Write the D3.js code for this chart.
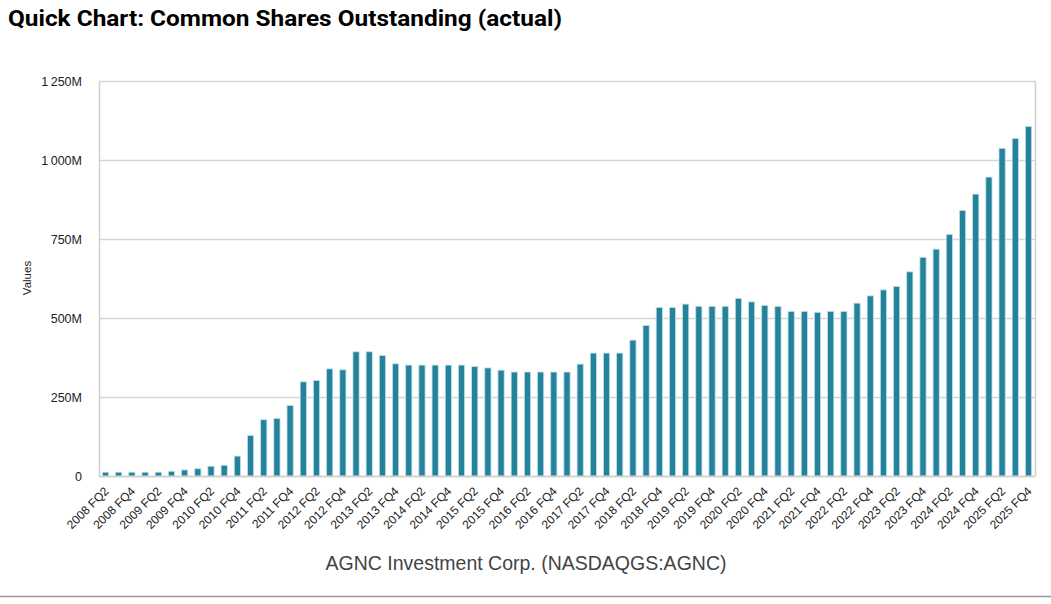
<!DOCTYPE html>
<html><head><meta charset="utf-8">
<script src="https://cdn.jsdelivr.net/npm/d3@7"></script>
<style>
body{margin:0;background:#fff;}
svg{display:block;font-family:"Liberation Sans",Arial,sans-serif;}
</style></head><body>
<svg id="c" width="1051" height="604"></svg>
<script>
const years = d3.range(2008, 2026);
const categories = [];
years.forEach(y => [1,2,3,4].forEach(q => { if (!(y === 2008 && q === 1)) categories.push(y + " FQ" + q); }));
const values = [
  12, 12, 12, 12, 12, 15, 19, 23, 31, 34,
  63, 128, 178, 182, 223, 298, 302, 339, 336, 393,
  393, 381, 355, 351, 351, 351, 351, 351, 346, 342,
  335, 329, 329, 329, 329, 329, 354, 389, 389, 389,
  430, 476, 533, 533, 544, 537, 537, 537, 562, 551,
  540, 536, 521, 521, 518, 521, 521, 547, 570, 589,
  600, 646, 692, 718, 764, 840, 892, 946, 1037, 1068, 1106
];
const yTicks = [0, 250, 500, 750, 1000, 1250];
const yTickLabels = ["0", "250M", "500M", "750M", "1\u2009000M", "1\u2009250M"];

const svg = d3.select("#c");
const m = {left: 99, right: 1035, top: 81, bottom: 476};
const x = d3.scaleBand().domain(categories).range([m.left, m.right]).paddingInner(0.53).paddingOuter(0.26);
const y = d3.scaleLinear().domain([0, 1250]).range([m.bottom, m.top]);

svg.append("text").attr("x", 8).attr("y", 26).attr("font-size", 22).attr("font-weight", "bold")
  .attr("fill", "#000").style("font-family", "Roboto, 'Liberation Sans', sans-serif")
  .attr("textLength", 554).attr("lengthAdjust", "spacingAndGlyphs")
  .text("Quick Chart: Common Shares Outstanding (actual)");

// grid
svg.append("g").selectAll("line").data(yTicks).join("line")
  .attr("x1", m.left).attr("x2", m.right)
  .attr("y1", d => y(d) + 0.5).attr("y2", d => y(d) + 0.5)
  .attr("stroke", "#d6d6d6").attr("stroke-width", 1.5);

// frame
svg.append("line").attr("x1", m.left + 0.5).attr("x2", m.left + 0.5).attr("y1", m.top).attr("y2", m.bottom)
  .attr("stroke", "#cfcfcf").attr("stroke-width", 1.5);
svg.append("line").attr("x1", m.right + 0.5).attr("x2", m.right + 0.5).attr("y1", m.top).attr("y2", m.bottom)
  .attr("stroke", "#cfcfcf").attr("stroke-width", 1.5);

// bars
svg.append("g").selectAll("rect").data(values).join("rect")
  .attr("x", (d, i) => x(categories[i]))
  .attr("width", x.bandwidth())
  .attr("y", d => y(d))
  .attr("height", d => y(0) - y(d))
  .attr("fill", "#24829a").attr("stroke", "#c2e0e6").attr("stroke-width", 0.8);

// baseline
svg.append("line").attr("x1", m.left).attr("x2", m.right).attr("y1", m.bottom + 0.5).attr("y2", m.bottom + 0.5)
  .attr("stroke", "#cfcfcf").attr("stroke-width", 1.5);

// y axis
const yAxis = d3.axisLeft(y).tickValues(yTicks).tickSize(0).tickPadding(0)
  .tickFormat((d, i) => yTickLabels[i]);
const ga = svg.append("g").attr("transform", `translate(${m.left - 17},0)`).call(yAxis);
ga.select(".domain").remove();
ga.selectAll("text").attr("font-size", 12.5).attr("fill", "#222").attr("dy", "0.32em")
  .style("font-family", "'Liberation Sans', Arial, sans-serif");

// x axis
const xLabels = categories.filter((c, i) => i % 2 === 0);
const xAxis = d3.axisBottom(x).tickValues(xLabels).tickSize(0).tickPadding(0);
const gx = svg.append("g").attr("transform", `translate(0,${m.bottom})`).call(xAxis);
gx.select(".domain").remove();
gx.selectAll("text").attr("font-size", 12).attr("fill", "#222")
  .attr("text-anchor", "end").attr("dy", null).attr("y", 0)
  .attr("transform", "translate(4,16) rotate(-45)");

svg.append("text").attr("transform", "translate(31,278) rotate(-90)")
  .attr("text-anchor", "middle").attr("font-size", 11.5).attr("fill", "#222").text("Values");

svg.append("text").attr("x", 526).attr("y", 570).attr("text-anchor", "middle")
  .attr("font-size", 19.5).attr("fill", "#444").text("AGNC Investment Corp. (NASDAQGS:AGNC)");

svg.append("line").attr("x1", 0).attr("x2", 1051).attr("y1", 596.5).attr("y2", 596.5)
  .attr("stroke", "#999").attr("stroke-width", 1.5);
</script>
</body></html>
